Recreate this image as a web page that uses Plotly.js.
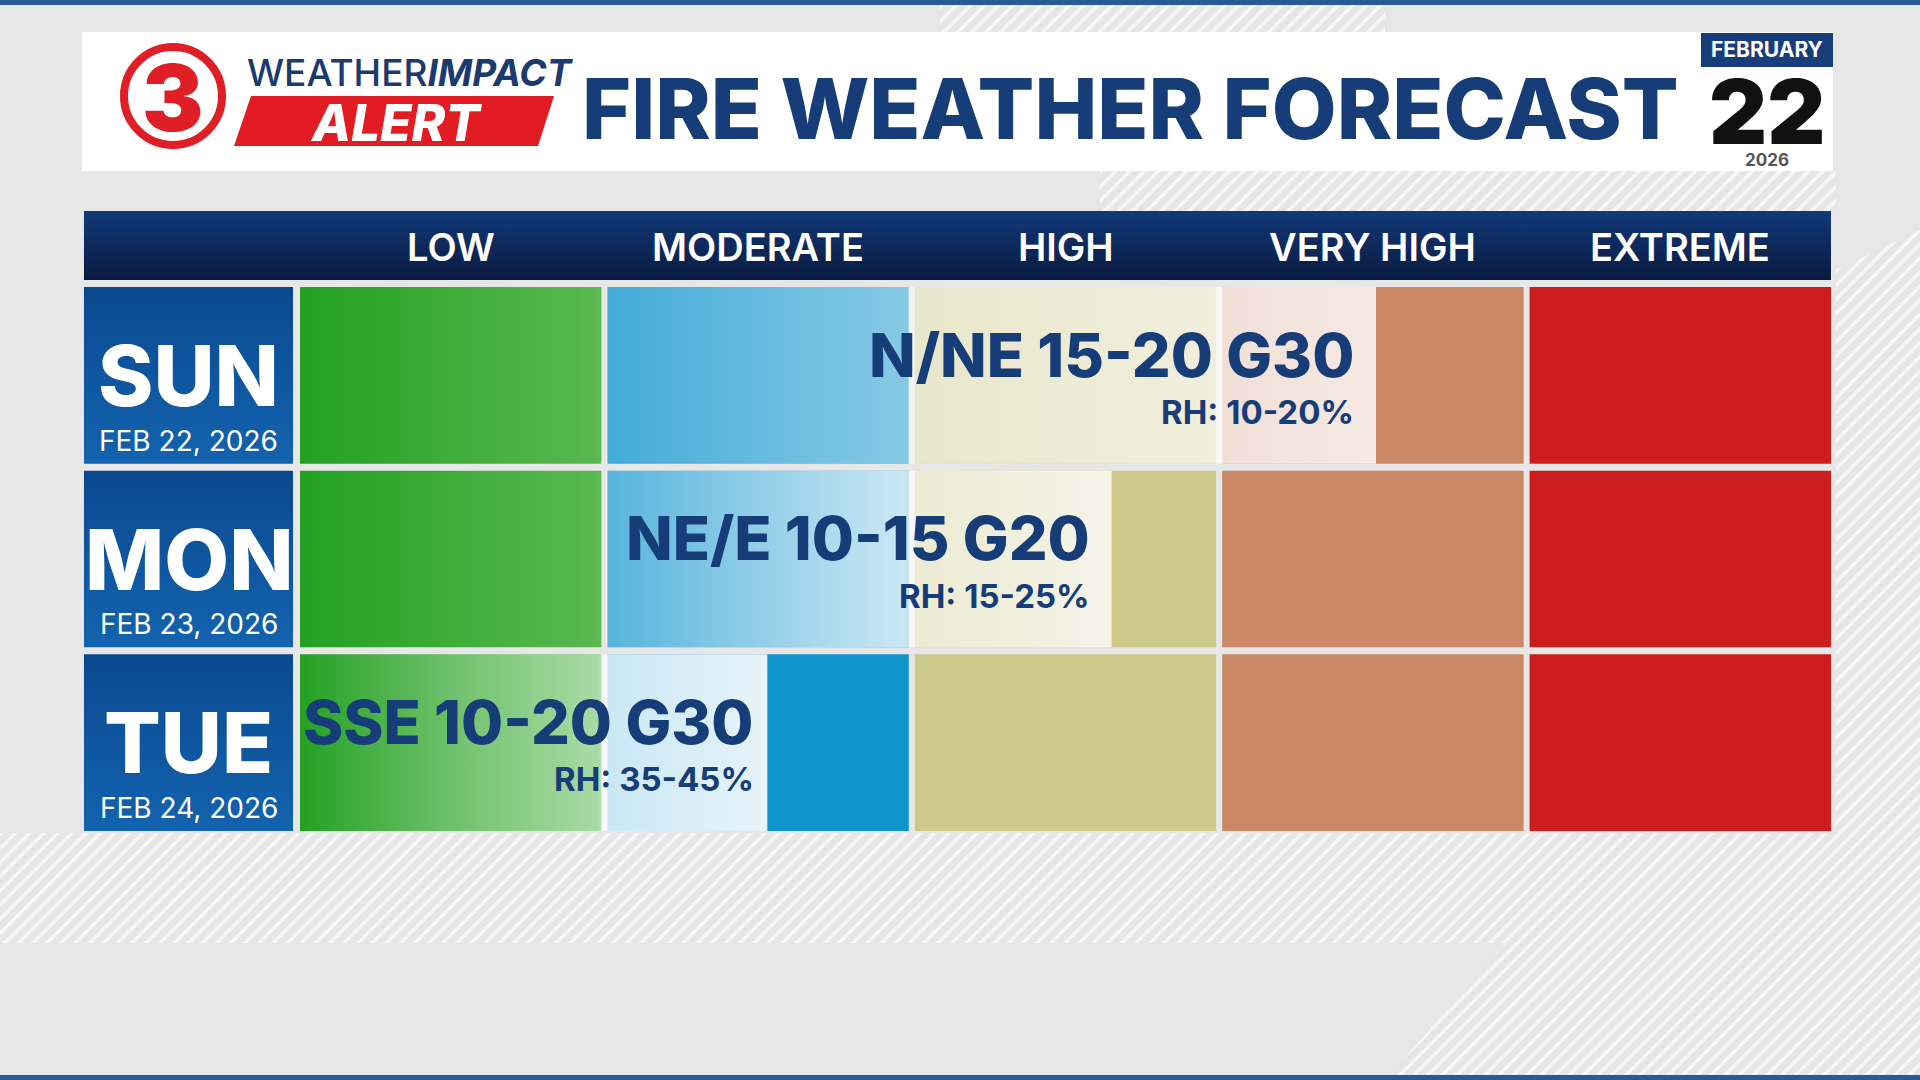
<!DOCTYPE html>
<html><head><meta charset="utf-8">
<script src="https://cdn.plot.ly/plotly-3.0.1.min.js"></script>
<style>html,body{margin:0;padding:0;background:#e7e7e7;overflow:hidden}#chart{width:1920px;height:1080px}</style>
</head><body><div id="chart"></div>
<script>
// ---------- DATA ----------
const riskLevels = ['LOW', 'MODERATE', 'HIGH', 'VERY HIGH', 'EXTREME'];
const dayNames = ['SUN', 'MON', 'TUE'];
const dayDates = ['FEB 22, 2026', 'FEB 23, 2026', 'FEB 24, 2026'];
const windText = ['N/NE 15-20 G30', 'NE/E 10-15 G20', 'SSE 10-20 G30'];
const rhText = ['RH: 10-20%', 'RH: 15-25%', 'RH: 35-45%'];
const forecastStart = [1, 1, 0];          // risk level where each day's forecast band begins
const forecastEnd = [3.51, 2.65, 1.53];   // where it ends (risk-level units)
const titleText = 'FIRE WEATHER FORECAST';
const issueMonth = 'FEBRUARY';
const issueDay = '22';
const issueYear = '2026';

// ---------- STYLE ----------
const NAVY = '#163d78';
const levelStyle = [
  {color: '#3aab36', grad: ['#22a022', '#5bb852']},
  {color: '#0f94cc'},
  {color: '#cdc98b'},
  {color: '#cb8867'},
  {color: '#cb1d1e'}
];
const overlayAlpha = [
  [[0, 0.22], [0.39, 0.5], [0.41, 0.56], [0.79, 0.7], [0.81, 0.74], [1, 0.82]],
  [[0, 0.30], [0.59, 0.78], [0.61, 0.62], [1, 0.8]],
  [[0, 0.0], [0.64, 0.48], [0.66, 0.78], [1, 0.9]]
];
const textPad = [0.066, 0.063, 0.036];
const gx = 0.0098, gy = 0.019;
const dayColLeft = -0.693;

const F = 'Inter, "Open Sans", sans-serif';
const traces = [];

function rect(x0, x1, y0, y1, fillcolor, fillgradient, axes) {
  const t = {
    type: 'scatter', mode: 'none', fill: 'toself', fillcolor: fillcolor,
    x: [x0, x1, x1, x0, x0], y: [y0, y0, y1, y1, y0],
    hoverinfo: 'skip', showlegend: false
  };
  if (fillgradient) t.fillgradient = fillgradient;
  if (axes !== 'decor') { t.xaxis = 'x2'; t.yaxis = 'y2'; }
  return t;
}
function poly(pts, pattern) {
  return {
    type: 'scatter', mode: 'none', fill: 'toself', fillcolor: '#e6e6e6',
    x: pts.map(p => p[0]).concat([pts[0][0]]), y: pts.map(p => p[1]).concat([pts[0][1]]),
    fillpattern: pattern, hoverinfo: 'skip', showlegend: false
  };
}

// ---------- decorative background (pixel axes) ----------
const stripe = {shape: '/', fgcolor: '#f7f7f7', bgcolor: '#e6e6e6', size: 10, solidity: 0.35};
traces.push(poly([[0, 833], [1920, 833], [1920, 943], [0, 943]], stripe));
traces.push(poly([[1836, 270], [1920, 230], [1920, 1075], [1390, 1075], [1505, 943], [1836, 943]], stripe));
traces.push(poly([[1100, 171], [1836, 171], [1836, 211], [1100, 211]], stripe));
traces.push(poly([[940, 5], [1385, 5], [1385, 32], [940, 32]], stripe));

// ---------- table (data axes) ----------
// header bar
traces.push(rect(dayColLeft, riskLevels.length - gx, -0.395, -gy, '#0c2552',
  {type: 'vertical', colorscale: [[0, '#0a1a3e'], [1, '#12397a']]}));
// day cells
dayNames.forEach((d, j) => {
  traces.push(rect(dayColLeft, -0.013, j + gy, j + 1 - gy, '#0e55a0',
    {type: 'vertical', colorscale: [[0, '#1363ae'], [1, '#0a4990']]}));
});
// level cells
dayNames.forEach((d, j) => {
  riskLevels.forEach((lv, i) => {
    const st = levelStyle[i];
    traces.push(rect(i + gx, i + 1 - gx, j + gy, j + 1 - gy, st.color,
      st.grad ? {type: 'horizontal', colorscale: [[0, st.grad[0]], [1, st.grad[1]]]} : null));
  });
});
// forecast overlays
dayNames.forEach((d, j) => {
  const cs = overlayAlpha[j].map(s => [s[0], 'rgba(255,255,255,' + s[1] + ')']);
  traces.push(rect(forecastStart[j] + gx * 0.5, forecastEnd[j], j + gy, j + 1 - gy,
    'rgba(255,255,255,0.5)', {type: 'horizontal', colorscale: cs}));
});

// ---------- annotations ----------
const ann = [];
riskLevels.forEach((lv, i) => ann.push({
  xref: 'x2', yref: 'y2', x: i + 0.5, y: -0.2, text: lv, showarrow: false,
  font: {family: F, size: 38, weight: 600, color: '#ffffff'}
}));
dayNames.forEach((d, j) => {
  ann.push({xref: 'x2', yref: 'y2', x: (dayColLeft - 0.013) / 2, y: j + 0.5, text: d, showarrow: false,
    font: {family: F, size: 84, weight: 800, color: '#ffffff'}});
  ann.push({xref: 'x2', yref: 'y2', x: (dayColLeft - 0.013) / 2, y: j + 0.855, text: dayDates[j], showarrow: false,
    font: {family: F, size: 28, weight: 400, color: '#ffffff'}});
  ann.push({xref: 'x2', yref: 'y2', x: forecastEnd[j] - textPad[j], y: j + 0.388, xanchor: 'right', text: windText[j], showarrow: false,
    font: {family: F, size: 61, weight: 800, color: NAVY}});
  ann.push({xref: 'x2', yref: 'y2', x: forecastEnd[j] - textPad[j], y: j + 0.7, xanchor: 'right', text: rhText[j], showarrow: false,
    font: {family: F, size: 33, weight: 700, color: NAVY}});
});
// header (pixel axes)
ann.push({xref: 'x', yref: 'y', x: 173, y: 97, text: '3', showarrow: false,
  font: {family: F, size: 92, weight: 900, color: '#e01e26'}});
ann.push({xref: 'x', yref: 'y', x: 245, y: 72, xanchor: 'left', text: 'WEATHER<b><i>IMPACT</i></b>', showarrow: false,
  font: {family: F, size: 37, weight: 500, color: '#1b3a6e'}});
ann.push({xref: 'x', yref: 'y', x: 396, y: 122, text: '<i>ALERT</i>', showarrow: false,
  font: {family: F, size: 51, weight: 800, color: '#ffffff'}});
ann.push({xref: 'x', yref: 'y', x: 580, y: 108, xanchor: 'left', text: titleText, showarrow: false,
  font: {family: F, size: 84, weight: 800, color: NAVY}});
ann.push({xref: 'x', yref: 'y', x: 1767, y: 49, text: issueMonth, showarrow: false,
  font: {family: F, size: 21, weight: 700, color: '#ffffff'}});
ann.push({xref: 'x', yref: 'y', x: 1767, y: 111, text: issueDay, showarrow: false,
  font: {family: F, size: 90, weight: 900, color: '#111111'}});
ann.push({xref: 'x', yref: 'y', x: 1767, y: 160, text: issueYear, showarrow: false,
  font: {family: F, size: 17, weight: 700, color: '#555555'}});

const shapes = [
  {type: 'rect', xref: 'x', yref: 'y', x0: 0, x1: 1920, y0: 0, y1: 5, fillcolor: '#2a5a95', line: {width: 0}},
  {type: 'rect', xref: 'x', yref: 'y', x0: 0, x1: 1920, y0: 1075, y1: 1080, fillcolor: '#2a5a95', line: {width: 0}},
  {type: 'rect', xref: 'x', yref: 'y', x0: 82, x1: 1833, y0: 32, y1: 171, fillcolor: '#ffffff', line: {width: 0}, layer: 'below'},
  {type: 'circle', xref: 'x', yref: 'y', x0: 124, x1: 222, y0: 47, y1: 145, fillcolor: '#ffffff', line: {width: 8, color: '#e01e26'}},
  {type: 'path', xref: 'x', yref: 'y', path: 'M251,96 L554,96 L538,146 L234,146 Z', fillcolor: '#e31b23', line: {width: 0}},
  {type: 'rect', xref: 'x', yref: 'y', x0: 1701, x1: 1833, y0: 33, y1: 67, fillcolor: '#173e7a', line: {width: 0}}
];

const layout = {
  width: 1920, height: 1080,
  margin: {l: 0, r: 0, t: 0, b: 0, pad: 0},
  paper_bgcolor: '#e7e7e7', plot_bgcolor: 'rgba(0,0,0,0)',
  showlegend: false,
  xaxis: {range: [0, 1920], visible: false, fixedrange: true},
  yaxis: {range: [1080, 0], visible: false, fixedrange: true},
  xaxis2: {range: [-0.9662, 5.2798], overlaying: 'x', visible: false, fixedrange: true},
  yaxis2: {range: [4.3366, -1.5436], overlaying: 'y', visible: false, fixedrange: true},
  annotations: ann,
  shapes: shapes
};
Plotly.newPlot('chart', traces, layout, {displayModeBar: false, staticPlot: true});
</script>
</body></html>
